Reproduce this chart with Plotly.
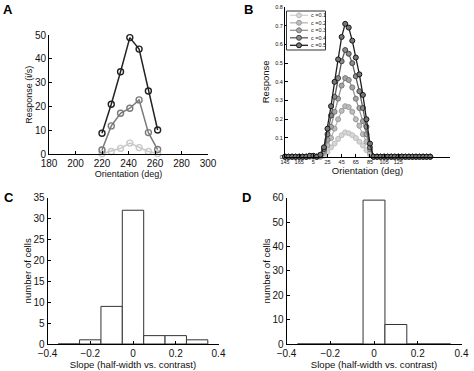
import plotly.graph_objects as go

# ---------------- Panel A data ----------------
A_orient = [220, 227, 234, 241, 248, 255, 262]
A_high = [8.8, 21.0, 34.6, 48.9, 44.1, 26.5, 10.2]
A_mid = [1.8, 11.9, 17.2, 19.3, 22.8, 9.1, 2.0]
A_low = [0.2, 1.2, 2.5, 4.7, 2.8, 1.2, 0.3]
A_xticks = [180, 200, 220, 240, 260, 280, 300]
A_yticks = [0, 10, 20, 30, 40, 50]

# ---------------- Panel B data ----------------
B_orient = [-35, -30, -25, -20, -15, -10, -5, 0, 5, 10, 15, 20, 25, 30, 35, 40, 45,
            50, 55, 60, 65, 70, 75, 80, 85, 90, 95, 100, 105, 110, 115, 120, 125,
            130, 135, 140, 145, 150, 155, 160, 165, 170]
B_c01 = [0, 0, 0, 0, 0, 0, 0, 0, 0, 0, 0, 0.005, 0.025, 0.05, 0.07, 0.095, 0.115,
         0.13, 0.125, 0.115, 0.10, 0.08, 0.06, 0.035, 0.01, 0, 0, 0, 0, 0, 0, 0, 0,
         0, 0, 0, 0, 0, 0, 0, 0, 0]
B_c02 = [0, 0, 0, 0, 0, 0, 0, 0, 0, 0, 0, 0.02, 0.06, 0.10, 0.15, 0.20, 0.245,
         0.27, 0.265, 0.24, 0.20, 0.165, 0.12, 0.08, 0.02, 0, 0, 0, 0, 0, 0, 0, 0,
         0, 0, 0, 0, 0, 0, 0, 0, 0]
B_c03 = [0, 0, 0, 0, 0, 0, 0, 0.003, 0.003, 0, 0.005, 0.03, 0.09, 0.16, 0.24, 0.31, 0.38,
         0.42, 0.41, 0.37, 0.31, 0.26, 0.19, 0.12, 0.04, 0, 0, 0, 0, 0, 0, 0, 0,
         0, 0, 0, 0, 0, 0, 0, 0, 0]
B_c04 = [0, 0, 0, 0, 0, 0, 0, 0.004, 0.004, 0, 0.01, 0.04, 0.12, 0.22, 0.32, 0.42, 0.51,
         0.57, 0.55, 0.50, 0.43, 0.35, 0.26, 0.16, 0.05, 0, 0, 0, 0, 0, 0, 0, 0,
         0, 0, 0, 0, 0, 0, 0, 0, 0]
B_c05 = [0, 0, 0, 0, 0, 0, 0, 0.005, 0.005, 0, 0.01, 0.05, 0.15, 0.27, 0.40, 0.52, 0.64,
         0.71, 0.69, 0.62, 0.53, 0.44, 0.33, 0.20, 0.07, 0, 0, 0, 0, 0, 0, 0, 0,
         0, 0, 0, 0, 0, 0, 0, 0, 0]
B_contrasts = [0.1, 0.2, 0.3, 0.4, 0.5]
B_xtickvals = [-35, -15, 5, 25, 45, 65, 85, 105, 125]
B_xticktext = ["145", "165", "5", "25", "45", "65", "85", "105", "125"]
B_yticks = [0, 0.1, 0.2, 0.3, 0.4, 0.5, 0.6, 0.7, 0.8]

# ---------------- Panels C / D data ----------------
bin_centers = [-0.3, -0.2, -0.1, 0.0, 0.1, 0.2, 0.3]
C_counts = [0, 1, 9, 32, 2, 2, 1]
D_counts = [0, 0, 0, 59, 8, 0, 0]
CD_xticks = [-0.4, -0.2, 0, 0.2, 0.4]
CD_xticktext = ["\u22120.4", "\u22120.2", "0", "0.2", "0.4"]
C_yticks = [0, 5, 10, 15, 20, 25, 30, 35]
D_yticks = [0, 10, 20, 30, 40, 50, 60]

FONT = "Liberation Sans, Arial, Helvetica, sans-serif"
W, H = 474, 371

def px(x):
    return x / W

def py(y):
    return 1 - y / H

fig = go.Figure()

# Panel A
A_colors = ["#c8c8c8", "#7a7a7a", "#222222"]
for vals, col in zip([A_low, A_mid, A_high], A_colors):
    fig.add_trace(go.Scatter(
        x=A_orient, y=vals, mode="lines+markers", xaxis="x", yaxis="y",
        line=dict(color=col, width=1.5),
        marker=dict(symbol="circle-open", size=6, color=col, line=dict(width=1.4)),
        showlegend=False, cliponaxis=False))

# Panel B
B_series = [B_c01, B_c02, B_c03, B_c04, B_c05]
B_line = ["#d2d2d2", "#b4b4b4", "#939393", "#5a5a5a", "#1e1e1e"]
B_fill = ["#d6d6d6", "#bdbdbd", "#a6a6a6", "#8a8a8a", "#777777"]
B_edge = ["#bfbfbf", "#9c9c9c", "#777777", "#444444", "#151515"]
for vals, lc, fc, ec in zip(B_series, B_line, B_fill, B_edge):
    fig.add_trace(go.Scatter(
        x=B_orient, y=vals, mode="lines+markers", xaxis="x2", yaxis="y2",
        line=dict(color=lc, width=1.3),
        marker=dict(symbol="circle", size=5, color=fc, line=dict(color=ec, width=1)),
        showlegend=False, cliponaxis=False))

# Panels C and D
for counts, xa, ya in [(C_counts, "x3", "y3"), (D_counts, "x4", "y4")]:
    fig.add_trace(go.Bar(
        x=bin_centers, y=counts, width=0.1, xaxis=xa, yaxis=ya,
        marker=dict(color="white", line=dict(color="#333333", width=1)),
        showlegend=False))

def axis(domain, rng, anchor, tickvals, ticktext=None, title="", tsize=10,
         titlesize=9.5, standoff=3):
    d = dict(domain=domain, range=rng, anchor=anchor, showline=True, automargin=False,
             linecolor="#000000", linewidth=1, ticks="inside", ticklen=3,
             tickcolor="#000000", tickwidth=1, showgrid=False, zeroline=False,
             mirror=False, tickvals=tickvals,
             tickfont=dict(family=FONT, size=tsize, color="#111111"),
             title=dict(text=title, font=dict(family=FONT, size=titlesize, color="#111111"),
                        standoff=standoff),
             fixedrange=True)
    if ticktext is not None:
        d["ticktext"] = ticktext
    return d

fig.update_layout(
    template="none",
    width=W, height=H, margin=dict(l=0, r=0, t=0, b=0, autoexpand=False),
    paper_bgcolor="white", plot_bgcolor="white", showlegend=False,
    bargap=0,
    xaxis=axis([px(49), px(208)], [180, 300], "y", A_xticks,
               title="Orientation (deg)", tsize=10, titlesize=9, standoff=0),
    yaxis=axis([py(154.3), py(35)], [0, 50], "x", A_yticks,
               title="Response (i/s)", tsize=10, titlesize=9, standoff=0),
    xaxis2=axis([px(285), px(450)], [-35, 198], "y2", B_xtickvals, B_xticktext,
                title="Orientation (deg)", tsize=5.5, titlesize=9.5, standoff=1),
    yaxis2=axis([py(156.7), py(7)], [0, 0.8], "x2", B_yticks,
                [("0" if v == 0 else f"{v:.1f}") for v in B_yticks],
                title="Response", tsize=5.5, titlesize=9.5, standoff=3),
    xaxis3=axis([px(47.5), px(218.5)], [-0.4, 0.4], "y3", CD_xticks, CD_xticktext,
                title="Slope (half-width vs. contrast)", tsize=10, titlesize=9.6, standoff=2),
    yaxis3=axis([py(344), py(197.7)], [0, 35], "x3", C_yticks,
                title="number of cells", tsize=10, titlesize=9.6, standoff=0),
    xaxis4=axis([px(286.5), px(461.5)], [-0.4, 0.4], "y4", CD_xticks, CD_xticktext,
                title="Slope (half-width vs. contrast)", tsize=10, titlesize=9.6, standoff=2),
    yaxis4=axis([py(344), py(197.7)], [0, 60], "x4", D_yticks,
                title="number of cells", tsize=10, titlesize=9.6, standoff=0),
)

# Panel letters
for letter, x, y in [("A", 8, 9.5), ("B", 248.5, 9.5), ("C", 9, 197), ("D", 247, 197)]:
    fig.add_annotation(text=f"<b>{letter}</b>", x=px(x), y=py(y), xref="paper", yref="paper",
                       showarrow=False, xanchor="center", yanchor="middle",
                       font=dict(family=FONT, size=13, color="#000000"))

# Manual legend for panel B (compact, like the original)
lx0, lx1, ly0, ly1 = 286.5, 325.5, 11, 50
fig.add_shape(type="rect", xref="paper", yref="paper", x0=px(lx0), x1=px(lx1),
              y0=py(ly1), y1=py(ly0), line=dict(color="#333333", width=1),
              fillcolor="white", layer="above")
for i, (c, lc, fc, ec) in enumerate(zip(B_contrasts, B_line, B_fill, B_edge)):
    yy = 15.3 + i * 7.5
    fig.add_shape(type="line", xref="paper", yref="paper", x0=px(290), x1=px(308),
                  y0=py(yy), y1=py(yy), line=dict(color=lc, width=1.3), layer="above")
    fig.add_shape(type="circle", xref="paper", yref="paper", xsizemode="pixel",
                  ysizemode="pixel", xanchor=px(299), yanchor=py(yy),
                  x0=-2.5, x1=2.5, y0=-2.5, y1=2.5, fillcolor=fc,
                  line=dict(color=ec, width=1), layer="above")
    fig.add_annotation(text=f"c ={c}", x=px(309.5), y=py(yy), xref="paper", yref="paper",
                       showarrow=False, xanchor="left", yanchor="middle", borderpad=0,
                       font=dict(family=FONT, size=5.5, color="#222222"))

fig.write_html("out.html", config={"displayModeBar": False, "staticPlot": True},
               post_script="document.body.style.margin='0px';document.body.style.overflow='hidden';")
